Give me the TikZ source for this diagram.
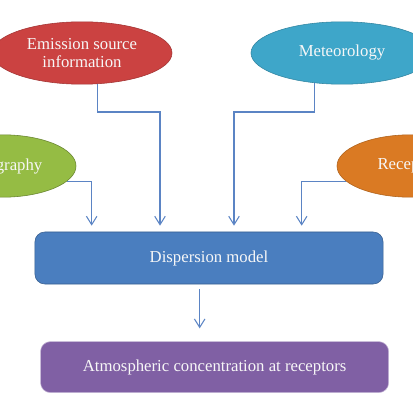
\documentclass[tikz,border=0pt]{standalone}
\usepackage{fontspec}
\setmainfont{Liberation Serif}
\usepackage{xcolor}
\usetikzlibrary{shapes.geometric, arrows.meta, positioning, calc}

\definecolor{emisred}{HTML}{CB4241}
\definecolor{meteoblue}{HTML}{3EA6C9}
\definecolor{topogreen}{HTML}{95BC44}
\definecolor{recorange}{HTML}{DA7A23}
\definecolor{dispblue}{HTML}{4A7EBF}
\definecolor{atmpurple}{HTML}{8060A4}
\definecolor{linkblue}{HTML}{5B84C4}

\begin{document}
\begin{tikzpicture}[x=0.025cm, y=-0.025cm,
    source/.style={ellipse, inner sep=0pt, minimum height=1.56cm, text=white!94!gray, align=center, font=\fontsize{11.9}{13.4}\selectfont},
    block/.style={rectangle, rounded corners=7pt, inner sep=0pt, minimum width=8.7cm, minimum height=1.3cm, text=white!94!gray, font=\fontsize{11.9}{13.4}\selectfont},
    arrow/.style={-{Straight Barb[length=6pt, width=7.5pt]}, line width=0.75pt, draw=linkblue, shorten >=4.3pt}]

    \useasboundingbox (0,0) rectangle (413,413);
    \clip (0,0) rectangle (413,413);

    \node[source, fill=emisred, draw=emisred!80!black, minimum width=4.5cm] (emis) at (82,53) {Emission source\\information};
    \node[source, fill=meteoblue, draw=meteoblue!80!black, minimum width=4.55cm] (meteo) at (342,53) {Meteorology};
    \node[source, fill=topogreen, draw=topogreen!70!black, minimum width=3.7cm] (topo) at (2,166) {Topography};
    \node[source, fill=recorange, draw=recorange!80!black, minimum width=3.7cm] (recep) at (411,166) {Receptors};

    \node[block, fill=dispblue, draw=dispblue!75!black] (disp) at (209,258) {Dispersion model};
    \node[block, below=1.425cm of disp, xshift=0.14cm, minimum height=1.275cm, fill=atmpurple, draw=atmpurple!45!white] (atm) {Atmospheric concentration at receptors};

    % where the inputs reach the model
    \coordinate (emisbend) at (160,112);
    \coordinate (meteobend) at (234,112);
    \coordinate (topoend) at ($(disp.north west)+(57,0)$);
    \coordinate (recepend) at ($(disp.north west)+(267,0)$);
    \coordinate (dispout) at ($(disp.south west)+(165,0)$);

    \draw[arrow] (emis.-64) |- (emisbend) -- (emisbend |- disp.north);
    \draw[arrow] (meteo.-133) |- (meteobend) -- (meteobend |- disp.north);
    \draw[arrow] (topo.-13) -| (topoend);
    \draw[arrow] (recep.193) -| (recepend);
    \draw[arrow, shorten <=3.5pt, shorten >=9.2pt] (dispout) -- (dispout |- atm.north);
\end{tikzpicture}
\end{document}
